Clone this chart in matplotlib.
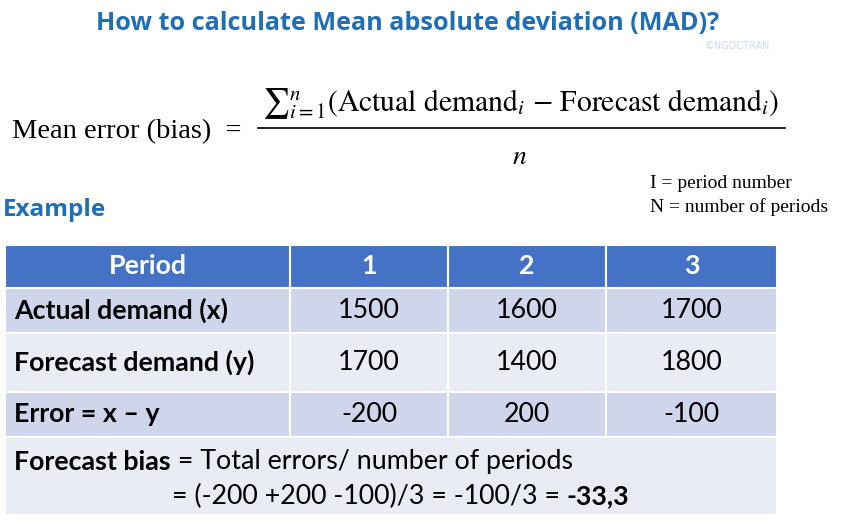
import matplotlib
matplotlib.use("Agg")
from matplotlib import pyplot as plt
from matplotlib.patches import Rectangle

plt.rcParams["mathtext.fontset"] = "stix"

periods = ["1", "2", "3"]
actual = [1500, 1600, 1700]
forecast = [1700, 1400, 1800]
errors = [-200, 200, -100]
row_labels = ["Actual demand (x)", "Forecast demand (y)", "Error = x \u2013 y"]

blue_title = "#1F6FB8"
hdr = "#4472C4"
dark = "#CFD5EA"
light = "#E9EBF5"
fam = "Lato"

fig = plt.figure(figsize=(8.44, 5.28), dpi=100)
ax = fig.add_axes([0, 0, 1, 1])
ax.set_xlim(0, 844)
ax.set_ylim(528, 0)
ax.axis("off")

ax.text(408, 24, "How to calculate Mean absolute deviation (MAD)?", color=blue_title,
        fontsize=18.2, fontweight="bold", family="Open Sans", ha="center", va="center")
ax.text(705, 46, "\u00a9NGOCTRAN", color="#D0D8E8", fontsize=7, ha="left", va="center")

# formula
ax.text(12, 132, "Mean error (bias)  =", family="Liberation Serif", fontsize=20.5, va="center")
ax.text(521, 104, r"${\sum}_{i=1}^{n}$(Actual demand$_i$ $-$ Forecast demand$_i$)",
        family="STIXGeneral", fontsize=21.3, ha="center", va="center")
ax.plot([258, 785], [128, 128], color="black", lw=1.2)
ax.text(520, 156, r"$n$", fontsize=20, ha="center", va="center")

ax.text(650, 183, "I = period number", family="Liberation Serif", fontsize=14, va="center")
ax.text(650, 207, "N = number of periods", family="Liberation Serif", fontsize=14, va="center")

ax.text(3, 210, "Example", color=blue_title, fontsize=17.5, fontweight="bold",
        family="Open Sans", va="center")

# table
cols = [5, 290, 448, 606, 777]
rows = [245, 288, 333, 392, 437, 515]
fills = [hdr, dark, light, dark, light]
for r in range(4):
    for c in range(4):
        ax.add_patch(Rectangle((cols[c], rows[r]), cols[c + 1] - cols[c], rows[r + 1] - rows[r],
                               facecolor=fills[r], edgecolor="white", lw=1.5))
ax.add_patch(Rectangle((cols[0], rows[4]), cols[4] - cols[0], rows[5] - rows[4],
                       facecolor=fills[4], edgecolor="white", lw=1.5))

fs = 19.3
ax.text((cols[0] + cols[1]) / 2, (rows[0] + rows[1]) / 2, "Period", color="white",
        fontsize=fs, fontweight="bold", family=fam, ha="center", va="center")
for c, p in enumerate(periods):
    ax.text((cols[c + 1] + cols[c + 2]) / 2, (rows[0] + rows[1]) / 2, p, color="white",
            fontsize=fs, fontweight="bold", family=fam, ha="center", va="center")

data = [actual, forecast, errors]
for r, (lab, vals) in enumerate(zip(row_labels, data)):
    yc = (rows[r + 1] + rows[r + 2]) / 2
    ax.text(14, yc, lab, fontsize=fs, fontweight="bold", family=fam, va="center")
    for c, v in enumerate(vals):
        ax.text((cols[c + 1] + cols[c + 2]) / 2, yc, str(v), fontsize=fs,
                family=fam, ha="center", va="center")

t = ax.text(14, 462, "Forecast bias", fontsize=fs, fontweight="bold", family=fam, va="center")
ax.annotate(" = Total errors/ number of periods", xycoords=t, xy=(1, 0.5), va="center",
            fontsize=fs, family=fam)
t2 = ax.text(172, 496, "= (-200 +200 -100)/3 = -100/3 = ", fontsize=fs, family=fam, va="center")
ax.annotate("-33,3", xycoords=t2, xy=(1, 0.5), va="center", fontsize=fs,
            fontweight="bold", family=fam)

fig.savefig("out.png", dpi=100)
